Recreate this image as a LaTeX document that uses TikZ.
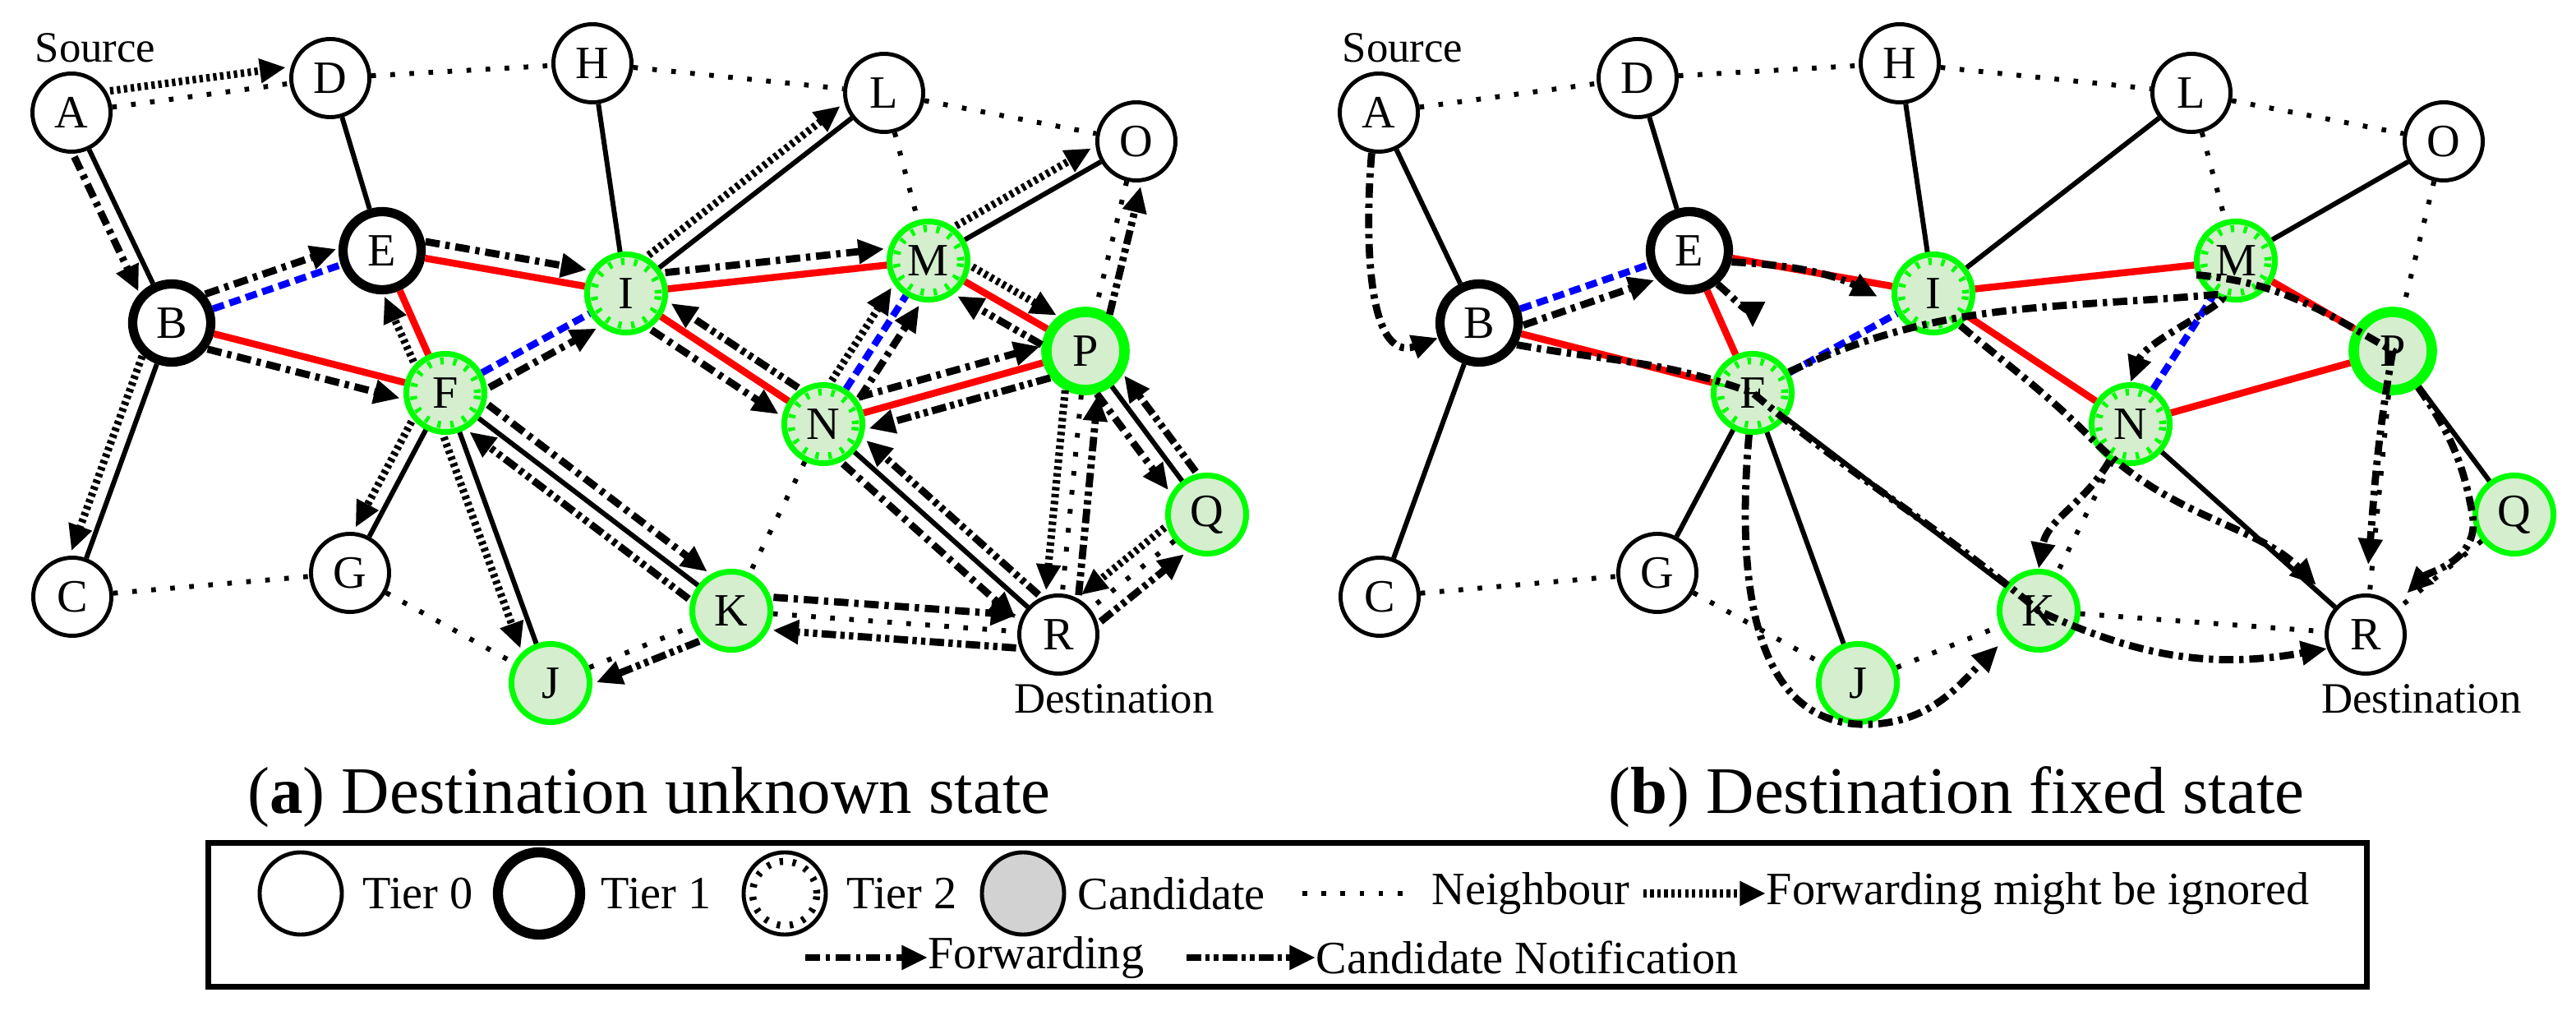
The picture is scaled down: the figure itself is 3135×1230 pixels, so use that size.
\documentclass[tikz,border=0pt]{standalone}
\usepackage{fontspec}
\setmainfont{Liberation Serif}
\usetikzlibrary{arrows.meta,calc}

\definecolor{candfill}{RGB}{212,238,206}

\tikzset{
  nd/.style={circle, draw, line width=1.4pt, minimum size=0.95cm, inner sep=0pt, fill=white,
             font=\fontsize{16}{16}\selectfont},
  ticks/.style={path picture={\draw[#1, line width=2.4pt, dash pattern=on 1.2pt off 3.3pt]
             (path picture bounding box.center) circle (0.39cm);}},
  t1/.style={nd, line width=3.2pt},
  cand/.style={nd, draw=green, line width=2pt, fill=candfill},
  t2/.style={cand, ticks=green},
  candp/.style={cand, line width=3.6pt},
  sol/.style={line width=1.7pt},
  nb/.style={line width=1.7pt, dash pattern=on 1.6pt off 5pt},
  rd/.style={red, line width=2.4pt},
  bl/.style={blue, line width=2.4pt, dash pattern=on 4pt off 2pt},
  tip/.style={-{Triangle[length=9pt,width=8pt]}},
  ign/.style={tip, line width=2.6pt, dash pattern=on 1.2pt off 1.2pt},
  fwd/.style={tip, line width=2.5pt, dash pattern=on 5pt off 2pt on 1.5pt off 2pt},
  cn/.style={tip, line width=2.5pt, dash pattern=on 5pt off 1.5pt on 1.5pt off 1.5pt on 1.5pt off 1.5pt},
  lab/.style={font=\fontsize{15}{15}\selectfont},
  leg/.style={font=\fontsize{16}{16}\selectfont, anchor=west, inner sep=0pt},
  captext/.style={font=\fontsize{23}{23}\selectfont, anchor=base},
}

% parallel arrow beside the edge a--b
\newcommand\pa[4][fwd]{\draw[#1, shorten <=0.5cm, shorten >=0.52cm]
  ($(#2)!#4!90:(#3)$) -- ($(#3)!#4!-90:(#2)$);}

\newcommand\net{%
  \node[nd] (A) at (87,1093) {A};
  \node[nd] (D) at (402,1135) {D};
  \node[nd] (H) at (721,1153) {H};
  \node[nd] (L) at (1076,1117) {L};
  \node[nd] (O) at (1383,1058) {O};
  \node[t1] (B) at (209,837) {B};
  \node[t1] (E) at (465,925) {E};
  \node[t2] (I) at (762,873) {I};
  \node[t2] (M) at (1130,913) {M};
  \node[candp] (P) at (1321,803) {P};
  \node[t2] (F) at (542,752) {F};
  \node[t2] (N) at (1002,714) {N};
  \node[cand] (Q) at (1469,604) {Q};
  \node[nd] (C) at (88,504) {C};
  \node[nd] (G) at (426,533) {G};
  \node[cand] (K) at (890,487) {K};
  \node[nd] (R) at (1288,458) {R};
  \node[cand] (J) at (670,399) {J};
  \node[lab] (src) at (116,1172) {Source};
  \node[lab] (dst) at (1356,380) {Destination};
  % neighbours
  \foreach \u/\v in {A/D,D/H,H/L,L/O,L/M,O/P,C/G,G/J,J/K,N/K,K/R,P/R,Q/R}
    \draw[nb] (\u) -- (\v);
  \foreach \u/\v in {A/B,D/E,H/I,I/L,M/O,B/C,F/G,F/J,F/K,N/R,P/Q}
    \draw[sol] (\u) -- (\v);
  \foreach \u/\v in {B/F,E/F,E/I,I/M,I/N,M/P,N/P}
    \draw[rd] (\u) -- (\v);
  \foreach \u/\v in {B/E,F/I,N/M}
    \draw[bl] (\u) -- (\v);
}

\begin{document}
\begin{tikzpicture}[x=0.01cm, y=0.01cm]
\useasboundingbox (0,0) rectangle (3135,1230);

\begin{scope}[name prefix=a-]
  \net
  \pa[ign]{A}{D}{0.2cm}
  \pa[fwd]{A}{B}{-0.2cm}
  \pa[fwd]{B}{E}{0.2cm}
  \pa[fwd]{B}{F}{-0.2cm}
  \pa[ign]{B}{C}{-0.2cm}
  \pa[fwd]{E}{I}{0.2cm}
  \pa[ign]{F}{E}{0.2cm}
  \pa[fwd]{F}{I}{-0.2cm}
  \pa[ign]{F}{G}{-0.2cm}
  \pa[ign]{F}{J}{-0.2cm}
  \pa[fwd]{F}{K}{0.2cm}
  \pa[cn]{K}{F}{0.2cm}
  \pa[ign]{I}{L}{0.2cm}
  \pa[fwd]{I}{M}{0.2cm}
  \pa[fwd]{I}{N}{-0.2cm}
  \pa[cn]{N}{I}{-0.2cm}
  \pa[ign]{M}{O}{0.2cm}
  \pa[ign]{M}{P}{0.2cm}
  \pa[cn]{P}{M}{0.2cm}
  \pa[ign]{N}{M}{0.2cm}
  \pa[fwd]{N}{M}{-0.2cm}
  \pa[fwd]{N}{P}{0.2cm}
  \pa[cn]{P}{N}{0.2cm}
  \pa[cn]{P}{O}{-0.18cm}
  \pa[ign]{P}{R}{-0.2cm}
  \pa[cn]{R}{P}{-0.2cm}
  \pa[fwd]{P}{Q}{-0.2cm}
  \pa[cn]{Q}{P}{-0.2cm}
  \pa[ign]{Q}{R}{-0.2cm}
  \pa[cn]{R}{Q}{-0.2cm}
  \pa[fwd]{N}{R}{-0.2cm}
  \pa[cn]{R}{N}{-0.2cm}
  \pa[fwd]{K}{R}{0.2cm}
  \pa[cn]{R}{K}{0.2cm}
  \pa[cn]{K}{J}{0.2cm}
\end{scope}

\begin{scope}[name prefix=b-, shift={(1591,0)}]
  \net
  \draw[fwd] (A.-100) to[out=-95,in=200] (B.200);
  \pa[fwd]{B}{E}{-0.2cm}
  \draw[fwd, shorten >=6pt] (E.-15) to[bend left=12] (I.195);
  \draw[fwd, shorten >=8pt] (E.-50) to[out=-40,in=90] (F.north);
  \draw[fwd] (B.-30) to[out=-10,in=160] (F.center) to[out=-40,in=140] (K.center)
    to[out=-25,in=190] (R.200);
  \draw[fwd] (F.30) to[out=25,in=185] (M.235) to[out=5,in=70] (N.north);
  \draw[fwd, shorten >=10pt] (I.-50) to[out=-40,in=135] (N.200) to[out=-45,in=135] (R.135);
  \draw[fwd, shorten >=10pt] (M.200) to[out=-5,in=150] (P.center) to[out=-100,in=85] (R.north);
  \draw[fwd, shorten >=6pt] (P.-55) to[out=-55,in=100] (Q.west) to[out=-80,in=45] (R.45);
  \draw[fwd, shorten >=4pt] (F.-95) to[out=-95,in=180] (J.-80) to[out=0,in=-135] (K.220);
  \draw[fwd] (N.-120) to[out=-120,in=80] (K.north);
\end{scope}

\node[captext] (capa) at (790,240) {(\textbf{a}) Destination unknown state};
\node[captext] (capb) at (2381,240) {(\textbf{b}) Destination fixed state};

% legend
\node[draw, line width=2pt, minimum width=26.25cm, minimum height=1.75cm, inner sep=0pt]
  (legbox) at (1567,117) {};
\node[nd, minimum width=0.9cm, minimum height=1cm] (l0) at (366,143) {};
\node[leg] (t0) at (441,143) {Tier 0};
\node[nd, line width=3.5pt, minimum width=0.9cm, minimum height=1cm] (l1) at (656,143) {};
\node[leg] (t1) at (731,143) {Tier 1};
\node[nd, ticks=black, minimum width=0.9cm, minimum height=1cm] (l2) at (955,143) {};
\node[leg] (t2) at (1030,143) {Tier 2};
\node[nd, fill=gray!35, minimum width=0.9cm, minimum height=1cm] (l3) at (1245,143) {};
\node[leg] (t3) at (1311,143) {Candidate};
\coordinate (nbs) at (1585,143);
\node[leg] (tnb) at (1742,143) {Neighbour};
\draw[nb, shorten >=0.3cm] (nbs) -- (tnb.west);
\coordinate (igs) at (2000,143);
\node[leg] (tig) at (2149,143) {Forwarding might be ignored};
\draw[ign] (igs) -- (tig.west);
\coordinate (fws) at (980,65);
\node[leg] (tfw) at (1129,65) {Forwarding};
\draw[fwd] (fws) -- (tfw.west);
\coordinate (cns) at (1444,65);
\node[leg] (tcn) at (1601,65) {Candidate Notification};
\draw[cn] (cns) -- (tcn.west);
\end{tikzpicture}
\end{document}
